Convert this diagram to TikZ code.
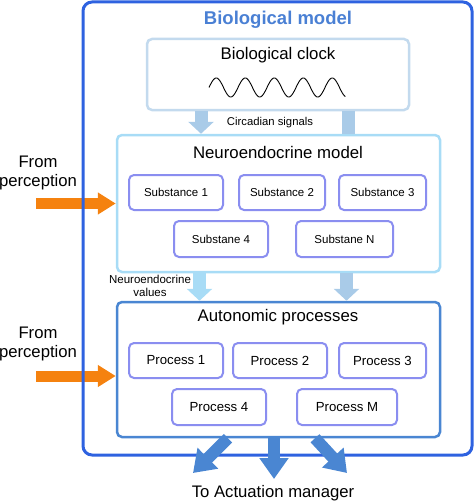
\documentclass[tikz,border=0pt]{standalone}
\usepackage{fontspec}
\setmainfont{Liberation Sans}
\usetikzlibrary{arrows.meta}
\definecolor{outerblue}{HTML}{2E62E0}
\definecolor{titleblue}{HTML}{4A80D4}
\definecolor{clockc}{HTML}{C3DAEE}
\definecolor{neuroc}{HTML}{A8DCF6}
\definecolor{autoc}{HTML}{4A86D2}
\definecolor{subc}{HTML}{8A8EF0}
\definecolor{arrowgray}{HTML}{A9CBE8}
\definecolor{orangec}{HTML}{F5820F}
\tikzset{
  panel/.style={draw=#1, line width=2.5pt, rounded corners=5pt, inner sep=0pt, fill=white},
  itembox/.style={draw=subc, line width=2pt, rounded corners=5pt, inner sep=0pt, fill=white,
     font=\fontsize{11.5}{13}\selectfont},
  procbox/.style={itembox, font=\fontsize{13.2}{15}\selectfont},
  paneltitle/.style={font=\fontsize{16.8}{19}\selectfont, inner sep=0pt},
  smalltext/.style={font=\fontsize{11.3}{13}\selectfont, inner sep=0pt, align=center},
  bigtext/.style={font=\fontsize{16.7}{19}\selectfont, inner sep=0pt, align=center},
  lightarrow/.style={draw=#1, line width=13pt, -{Triangle[width=25pt,length=12pt]}},
  orangearrow/.style={draw=orangec, line width=11pt, -{Triangle[width=21pt,length=18pt]}},
  bluearrow/.style={draw=autoc, line width=12pt, -{Triangle[width=28pt,length=21pt]}},
}
\begin{document}
\begin{tikzpicture}[x=1pt,y=-1pt]
\useasboundingbox (0,0) rectangle (474,503);

% inner panels
\node[panel=clockc, minimum width=262pt, minimum height=71pt] (clock) at (278,74.5) {};
\node[panel=neuroc, minimum width=323pt, minimum height=137pt] (neuro) at (278.5,203.5) {};
\node[panel=autoc, minimum width=323pt, minimum height=135pt] (auto) at (278.5,369.5) {};

% titles
\node[font=\bfseries\fontsize{18.5}{21}\selectfont, text=titleblue, inner sep=0pt] (ttl) at (278,20) {Biological model};
\node[paneltitle] (clockttl) at (278,55) {Biological clock};
\node[paneltitle] (neurottl) at (278,152) {Neuroendocrine model};
\node[paneltitle] (autottl) at (278,317) {Autonomic processes};

% wave
\draw[line width=0.9pt] plot[domain=0:1692, samples=240, smooth] ({209+\x/360*29},{87.5-9.5*sin(\x)});

% substances
\node[itembox, minimum width=94pt, minimum height=35pt] (s1) at (176,192.5) {Substance 1};
\node[itembox, minimum width=86pt, minimum height=35pt] (s2) at (282,192.5) {Substance 2};
\node[itembox, minimum width=87pt, minimum height=35pt] (s3) at (382.5,192.5) {Substance 3};
\node[itembox, minimum width=94pt, minimum height=36pt] (s4) at (221,239) {Substane 4};
\node[itembox, minimum width=97pt, minimum height=36pt] (sN) at (344.5,239) {Substane N};

% processes
\node[procbox, minimum width=94pt, minimum height=35pt] (p1) at (176,360.5) {Process 1};
\node[procbox, minimum width=94pt, minimum height=35pt] (p2) at (280,360.5) {Process 2};
\node[procbox, minimum width=87pt, minimum height=35pt] (p3) at (382.5,360.5) {Process 3};
\node[procbox, minimum width=94pt, minimum height=36pt] (p4) at (219,407) {Process 4};
\node[procbox, minimum width=100pt, minimum height=36pt] (pM) at (347,407) {Process M};

% clock -> neuro
\draw[lightarrow=arrowgray] ([xshift=-77pt]clock.south) -- ([xshift=-77.5pt]neuro.north);
\draw[draw=arrowgray, line width=13pt] ([xshift=70pt]clock.south) -- ([xshift=69.5pt]neuro.north);
\node[smalltext] (circ) at (270,123) {Circadian signals};

% neuro -> auto
\draw[lightarrow=neuroc] ([xshift=-79pt]neuro.south) -- ([xshift=-79pt]auto.north);
\draw[lightarrow=arrowgray] ([xshift=68pt]neuro.south) -- ([xshift=68pt]auto.north);
\node[smalltext, font=\fontsize{11.5}{13}\selectfont] (nv) at (150,286) {Neuroendocrine\\values};

% from perception
\coordinate (fp1) at (36,203.5);
\coordinate (fp2) at (36,376);
\draw[orangearrow] (fp1) -- (neuro.west |- fp1);
\draw[orangearrow] (fp2) -- (auto.west |- fp2);
\node[bigtext] (fpt1) at (38,172.5) {From\\perception};
\node[bigtext] (fpt2) at (38,343.5) {From\\perception};

% outer box
\node[draw=outerblue, line width=3pt, rounded corners=9pt, inner sep=0pt,
      minimum width=389pt, minimum height=453pt] (outer) at (277.5,228.5) {};

% outputs
\coordinate (o1) at (193,473);
\coordinate (o2) at (274,479);
\coordinate (o3) at (347,473);
\draw[bluearrow] ([xshift=-50.5pt]auto.south) -- (o1);
\draw[bluearrow] ([xshift=-4.5pt]auto.south) -- (o2);
\draw[bluearrow] ([xshift=36.5pt]auto.south) -- (o3);
\node[bigtext] (act) at (273,493) {To Actuation manager};
\end{tikzpicture}
\end{document}
